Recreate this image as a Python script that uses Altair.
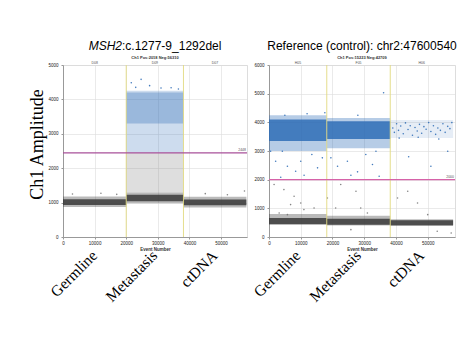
import altair as alt
import pandas as pd

# ---------------- data ----------------
SAMPLES = ["Germline", "Metastasis", "ctDNA"]
X_TICKS = [0, 10000, 20000, 30000, 40000, 50000]

# left panel: MSH2 variant assay
L_gene = "MSH2"
L_variant = ":c.1277-9_1292del"
L_counts = "Ch1 Pos:2018 Neg:56310"
L_wells = ["D08", "D09", "D07"]
L_well_start = [0, 20000, 38100]
L_well_end = [20000, 38100, 58000]
L_x_max = 58200
L_y_max = 5000
L_threshold = 2448
# droplet clouds: well index, kind, density level, low amplitude, high amplitude
L_cloud_well = [0, 0, 1, 1, 1, 1, 1, 2, 2]
L_cloud_kind = ["neg", "neg", "neg", "neg", "rain", "pos", "pos", "neg", "neg"]
L_cloud_level = ["fringe", "core", "fringe", "core", "sparse", "sparse", "medium", "fringe", "core"]
L_cloud_lo = [870, 930, 980, 1040, 1290, 2450, 3300, 860, 920]
L_cloud_hi = [1180, 1100, 1290, 1230, 2450, 4250, 4200, 1170, 1090]
# isolated droplets
L_pt_x = [24700, 21600, 34200, 27400, 31000, 36500, 23000, 57400, 3000, 12000, 17000, 45000, 52000]
L_pt_y = [4583, 4486, 4341, 4400, 4330, 4300, 4350, 1337, 1250, 1270, 1240, 1260, 1230]
L_pt_kind = ["pos"] * 7 + ["rain"] * 6

# right panel: reference (control) assay
R_title = "Reference (control): chr2:47600540"
R_counts = "Ch1 Pos:15223 Neg:42709"
R_wells = ["H05", "F05", "H06"]
R_well_start = [0, 18200, 38200]
R_well_end = [18200, 38200, 58000]
R_x_max = 58600
R_y_max = 6000
R_threshold = 2000
R_cloud_well = [0, 0, 0, 0, 1, 1, 1, 1, 2, 2, 2]
R_cloud_kind = ["pos", "pos", "neg", "neg", "pos", "pos", "neg", "neg", "pos", "neg", "neg"]
R_cloud_level = ["fringe", "core", "fringe", "core", "fringe", "core", "fringe", "core", "thin", "fringe", "core"]
R_cloud_lo = [3000, 3350, 420, 450, 3100, 3420, 400, 430, 3450, 380, 410]
R_cloud_hi = [4250, 4100, 800, 660, 4150, 4040, 740, 640, 4080, 620, 580]
R_pt_x = [2100, 4200, 5800, 8400, 10000, 11050, 13500, 15300, 16800, 3700, 500,
          19500, 21600, 24700, 27900, 30500, 32600, 34700, 33700, 25800,
          36100, 17600, 12000, 5000, 28000,
          39000, 39500, 40200, 40800, 41500, 42300, 43000, 43800, 44500, 45200,
          46000, 46700, 47400, 48100, 48800, 49500, 50300, 51000, 51800, 52500,
          53200, 54000, 54800, 55500, 56300, 57000, 57600, 41000, 47000, 53500,
          44000, 51000, 56300,
          1600, 4700, 6800, 10000, 7900, 11000, 5800, 22600, 27400, 28900,
          18400, 14200, 40500, 46800, 50000, 43700, 3200, 31000, 21000,
          53000, 25800, 57400]
R_pt_y = [2645, 2994, 2470, 2295, 2645, 2155, 2877, 2412, 2761, 2085, 2994,
          2761, 2470, 2645, 2272, 2877, 2528, 2120, 2994, 2155,
          5033, 4334, 4300, 4250, 4250,
          3800, 3650, 3950, 3720, 3870, 3600, 3980, 3750, 3880, 3550,
          3820, 3700, 3930, 3620, 3850, 3760, 3990, 3680, 3880, 3580,
          3800, 3720, 3950, 3650, 3860, 3780, 3990, 3450, 3480, 3420,
          2800, 2470, 2994,
          1829, 1654, 1130, 1188, 1421, 955, 780, 1829, 1596, 1013,
          1363, 1013, 1363, 1188, 780, 1596, 839, 839, 1013,
          200, 256, 140]
R_pt_kind = ["pos"] * 58 + ["rain"] * 22

# ---------------- styling ----------------
KIND_DOMAIN = ["neg", "pos", "rain"]
KIND_RANGE = ["#3a3a3a", "#2f6db6", "#777777"]
LEVEL_OPACITY = {"fringe": 0.35, "core": 0.85, "sparse": 0.24, "medium": 0.32, "thin": 0.12}
SANS = "Liberation Sans"
SERIF = "Liberation Serif"


def build_panel(p):
    w, h = p["width"], p["height"]
    xs = alt.Scale(domain=[0, p["x_max"]], nice=False, zero=False)
    ys = alt.Scale(domain=[0, p["y_max"]], nice=False)
    x_axis = alt.Axis(values=X_TICKS, format="d", title="Event Number",
                      labelFontSize=4.5, titleFontSize=4.5, titleFontWeight="bold",
                      titlePadding=1, labelPadding=1.5, tickSize=2, tickColor="#999",
                      domainColor="#999", labelColor="#222", titleColor="#333",
                      labelOverlap=False, labelFlush=False, labelBound=False,
                      grid=True, gridColor="#dcdcdc", gridWidth=0.6, labelFont=SANS)
    y_kw = dict(values=list(range(0, p["y_max"] + 1, 1000)), format="d",
                labelFontSize=4.5, labelPadding=3, tickSize=2, tickColor="#999",
                domainColor="#999", labelColor="#222", grid=True,
                labelOverlap=False, labelFlush=False, labelBound=False,
                gridColor="#dcdcdc", gridWidth=0.6, labelFont=SANS)
    if p["y_title"]:
        y_kw.update(title=p["y_title"], titleFont=SERIF, titleFontSize=18,
                    titleFontWeight="normal", titleColor="#000", titleY=79,
                    titleX=-17)
    else:
        y_kw.update(title=None)
    y_axis = alt.Axis(**y_kw)

    def X(field):
        return alt.X(field, scale=xs, axis=x_axis)

    def Y(field):
        return alt.Y(field, scale=ys, axis=y_axis)

    clouds = pd.DataFrame({
        "x0": [p["well_start"][i] for i in p["cloud_well"]],
        "x1": [p["well_end"][i] for i in p["cloud_well"]],
        "lo": p["cloud_lo"], "hi": p["cloud_hi"],
        "kind": p["cloud_kind"], "level": p["cloud_level"],
    })
    pts = pd.DataFrame({"ex": p["pt_x"], "amp": p["pt_y"], "kind": p["pt_kind"]})
    wells = pd.DataFrame({
        "well": p["wells"], "sample": SAMPLES,
        "center": [(a + b) / 2 for a, b in zip(p["well_start"], p["well_end"])],
        "top": [p["y_max"]] * 3,
    })
    bounds = pd.DataFrame({"b": p["well_start"][1:]})
    thr = pd.DataFrame({"t": [p["threshold"]], "xm": [p["x_max"]],
                        "lab": [str(p["threshold"])]})
    one = pd.DataFrame({"a": [0]})

    color = alt.Color("kind:N", scale=alt.Scale(domain=KIND_DOMAIN, range=KIND_RANGE), legend=None)

    layers = []
    for level in ["fringe", "sparse", "core", "medium", "thin"]:
        sub = clouds[clouds["level"] == level]
        if sub.empty:
            continue
        layers.append(alt.Chart(sub).mark_rect(opacity=LEVEL_OPACITY[level]).encode(
            x=X("x0:Q"), x2="x1:Q", y=Y("lo:Q"), y2="hi:Q", color=color))

    dots = alt.Chart(pts).mark_circle(size=2.5, opacity=0.9).encode(
        x=X("ex:Q"), y=Y("amp:Q"), color=color)
    vlines = alt.Chart(bounds).mark_rule(color="#e2da80", strokeWidth=0.9).encode(x=X("b:Q"))
    hline = alt.Chart(thr).mark_rule(color=p["thr_color"], strokeWidth=1.2).encode(y=Y("t:Q"))
    hlab = alt.Chart(thr).mark_text(fontSize=3.5, align="right", baseline="bottom",
                                    dx=-1, dy=-1, color="#555", font=SANS).encode(
        x=X("xm:Q"), y=Y("t:Q"), text="lab:N")
    wlab = alt.Chart(wells).mark_text(fontSize=3.5, baseline="bottom", dy=-0.5,
                                      color="#555", font=SANS).encode(
        x=X("center:Q"), y=Y("top:Q"), text="well:N")
    counts = alt.Chart(one).mark_text(fontSize=4, fontWeight="bold", baseline="bottom",
                                      color="#333", font=SANS, text=p["counts"]).encode(
        x=alt.value(w / 2), y=alt.value(-5.5))
    samples = alt.Chart(wells).mark_text(font=SERIF, fontSize=15.5, angle=315, align="right",
                                         baseline="middle", color="#000").encode(
        x=X("center:Q"), y=alt.value(h + 16), text="sample:N")

    layers += [dots, vlines, hline, hlab, wlab, counts, samples]
    if p["gene"]:
        layers.append(alt.Chart(one).mark_text(fontSize=12, fontStyle="italic", align="right",
                                               color="#000", font=SANS, text=p["gene"]).encode(
            x=alt.value(w / 2 - 33), y=alt.value(-19)))
        layers.append(alt.Chart(one).mark_text(fontSize=12, align="left", color="#000",
                                               font=SANS, text=p["title"]).encode(
            x=alt.value(w / 2 - 33), y=alt.value(-19)))
    else:
        layers.append(alt.Chart(one).mark_text(fontSize=12, align="center", color="#000",
                                               font=SANS, text=p["title"]).encode(
            x=alt.value(w / 2), y=alt.value(-19)))
    return alt.layer(*layers).properties(width=w, height=h)


left = build_panel(dict(
    width=184, height=172, x_max=L_x_max, y_max=L_y_max, y_title="Ch1 Amplitude",
    well_start=L_well_start, well_end=L_well_end, wells=L_wells,
    cloud_well=L_cloud_well, cloud_kind=L_cloud_kind, cloud_level=L_cloud_level,
    cloud_lo=L_cloud_lo, cloud_hi=L_cloud_hi,
    pt_x=L_pt_x, pt_y=L_pt_y, pt_kind=L_pt_kind,
    threshold=L_threshold, thr_color="#a8509a", counts=L_counts,
    gene=L_gene, title=L_variant))

right = build_panel(dict(
    width=186, height=172, x_max=R_x_max, y_max=R_y_max, y_title=None,
    well_start=R_well_start, well_end=R_well_end, wells=R_wells,
    cloud_well=R_cloud_well, cloud_kind=R_cloud_kind, cloud_level=R_cloud_level,
    cloud_lo=R_cloud_lo, cloud_hi=R_cloud_hi,
    pt_x=R_pt_x, pt_y=R_pt_y, pt_kind=R_pt_kind,
    threshold=R_threshold, thr_color="#d662a8", counts=R_counts,
    gene=None, title=R_title))

chart = alt.hconcat(left, right, spacing=22, bounds="flush").properties(
    padding={"left": 27, "top": 39, "right": 0, "bottom": 0},
    background="white",
).configure_view(
    fill="#f4f4f4", stroke="#a8a8a8", strokeWidth=0.8
).configure_axis(labelOverlap=False).configure(font=SANS)

chart.save("out.html", embed_options={"renderer": "svg", "actions": False})
